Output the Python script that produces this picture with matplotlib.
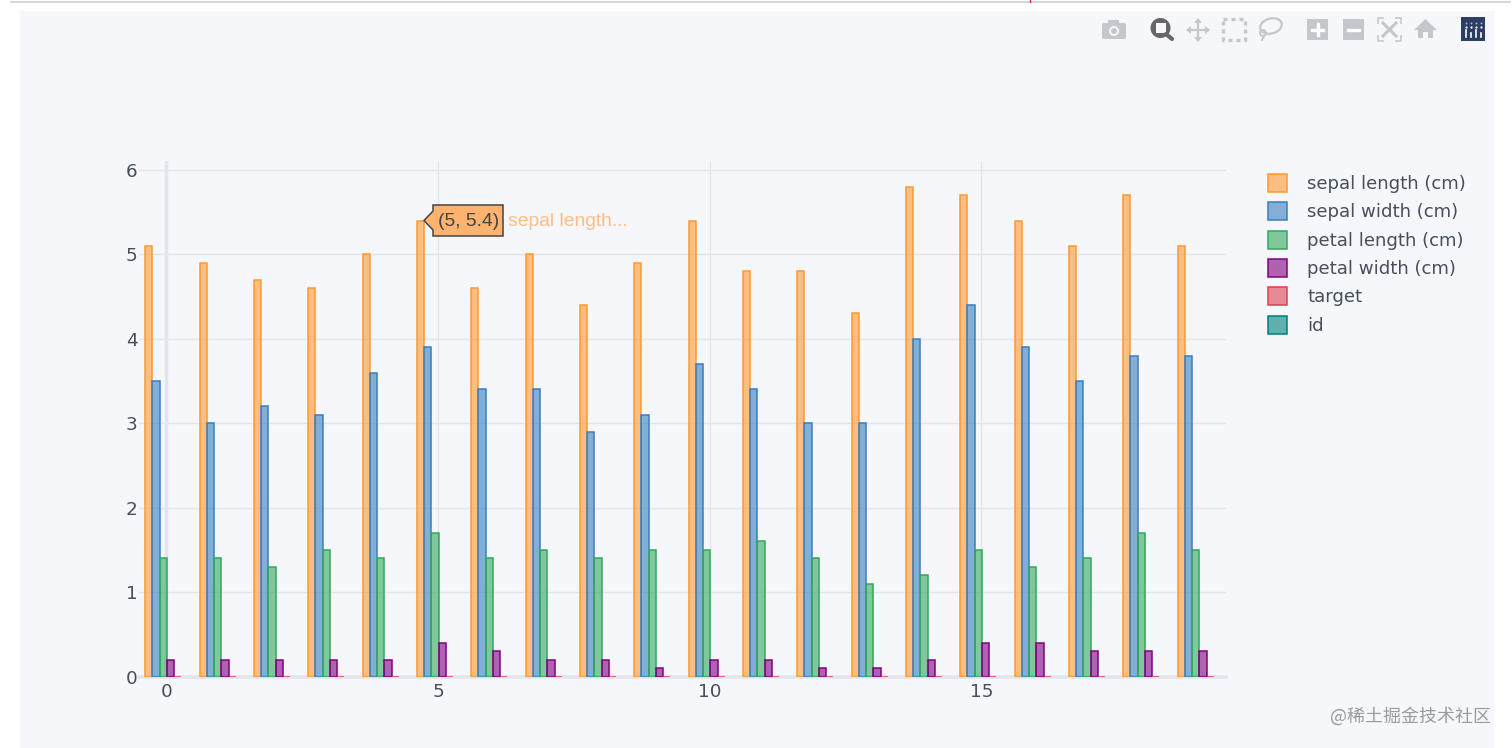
import numpy as np
import matplotlib
matplotlib.use("Agg")
import matplotlib.pyplot as plt
from matplotlib.patches import Rectangle, Polygon, Circle, Ellipse, FancyBboxPatch

# iris data, first 20 rows
sepal_length = [5.1, 4.9, 4.7, 4.6, 5.0, 5.4, 4.6, 5.0, 4.4, 4.9, 5.4, 4.8, 4.8, 4.3, 5.8, 5.7, 5.4, 5.1, 5.7, 5.1]
sepal_width = [3.5, 3.0, 3.2, 3.1, 3.6, 3.9, 3.4, 3.4, 2.9, 3.1, 3.7, 3.4, 3.0, 3.0, 4.0, 4.4, 3.9, 3.5, 3.8, 3.8]
petal_length = [1.4, 1.4, 1.3, 1.5, 1.4, 1.7, 1.4, 1.5, 1.4, 1.5, 1.5, 1.6, 1.4, 1.1, 1.2, 1.5, 1.3, 1.4, 1.7, 1.5]
petal_width = [0.2, 0.2, 0.2, 0.2, 0.2, 0.4, 0.3, 0.2, 0.2, 0.1, 0.2, 0.2, 0.1, 0.1, 0.2, 0.4, 0.4, 0.3, 0.3, 0.3]
target = [0] * 20
ids = [0] * 20

names = ["sepal length (cm)", "sepal width (cm)", "petal length (cm)", "petal width (cm)", "target", "id"]
series = [sepal_length, sepal_width, petal_length, petal_width, target, ids]
colors = ["#ff9933", "#3780bf", "#32a85c", "#800080", "#db4052", "#008080"]
x_ticks = [0, 5, 10, 15]
y_ticks = [0, 1, 2, 3, 4, 5, 6]

W, H = 1512, 748
BG = "#f5f7fa"
GRID = "#e2e5ec"
TEXT = "#474f5a"
ICON = "#c4c7cc"

plt.rcParams["font.family"] = ["DejaVu Sans"]
fig = plt.figure(figsize=(W / 100, H / 100), dpi=100, facecolor="white")

# overlay in pixel coords for the page, toolbar, legend and tooltip
bg = fig.add_axes([0, 0, 1, 1], zorder=0)
bg.set_xlim(0, W)
bg.set_ylim(H, 0)
bg.axis("off")
bg.add_patch(Rectangle((20, 11), 1474, 737, fc=BG, ec="none"))
bg.plot([11, 1510], [2, 2], color="#cfcfcf", lw=1.2)
bg.plot([1030, 1030], [0, 2], color="#c0305a", lw=1)

# plot area
left, right, top, bottom = 139, 1226, 161, 676.5
ax = fig.add_axes([left / W, 1 - bottom / H, (right - left) / W, (bottom - top) / H], zorder=1)
ax.patch.set_alpha(0)
for s in ax.spines.values():
    s.set_visible(False)
ax.set_xlim(-0.506, 19.5)
ax.set_ylim(0, 6.105)
ax.set_xticks(x_ticks)
ax.set_yticks(y_ticks)
ax.grid(True, color=GRID, lw=1)
ax.set_axisbelow(True)
ax.tick_params(length=0, labelsize=13.2, labelcolor=TEXT)
ax.tick_params(axis="x", pad=5)
ax.tick_params(axis="y", pad=1)
ax.axvline(0, color=GRID, lw=2.4, zorder=0.8)
ax.axhline(0, color=GRID, lw=2.6, zorder=0.8, clip_on=False)

n = len(series)
w = 0.8 / n
xs = np.arange(20)
for i, (vals, c) in enumerate(zip(series, colors)):
    pos = xs - 0.4 + w * (i + 0.5) + 0.008
    lw = 0 if names[i] == "id" else 1.1
    ax.bar(pos, vals, width=w, color=matplotlib.colors.to_rgba(c, 0.6), edgecolor=c, linewidth=lw, zorder=2)

# legend
for i, (name, c) in enumerate(zip(names, colors)):
    yc = 183 + i * 28.35
    bg.add_patch(Rectangle((1268, yc - 9), 19, 18, fc=matplotlib.colors.to_rgba(c, 0.6), ec=c, lw=1.1))
    bg.text(1307, yc + 0.8, name, fontsize=13.05, color=TEXT, va="center", ha="left")

# hover label
top_layer = fig.add_axes([0, 0, 1, 1], zorder=3)
top_layer.set_xlim(0, W)
top_layer.set_ylim(H, 0)
top_layer.axis("off")
top_layer.add_patch(Polygon([(424, 220.5), (433, 211), (433, 205), (503, 205), (503, 236), (433, 236), (433, 230)],
                            closed=True, fc="#ffb36f", ec="#444444", lw=1.1))
top_layer.text(468.5, 221, "(5, 5.4)", fontsize=13.9, color="#444444", ha="center", va="center", family="Liberation Sans")
top_layer.text(508, 221, "sepal length...", fontsize=13.9, color="#ffbd85", ha="left", va="center", family="Liberation Sans")

# watermark
top_layer.text(1491, 716, "@稀土掘金技术社区", fontsize=12.95, color="#9b9b9b", ha="right", va="center",
               family=["Noto Sans CJK SC", "DejaVu Sans"])

# modebar icons
t = top_layer
# camera
t.add_patch(FancyBboxPatch((1102, 23), 24, 16, boxstyle="round,pad=0,rounding_size=2", fc=ICON, ec="none"))
t.add_patch(Rectangle((1108, 20), 11, 4, fc=ICON, ec="none"))
t.add_patch(Circle((1114, 31), 5, fc=BG, ec="none"))
t.add_patch(Circle((1114, 31), 3, fc=ICON, ec="none"))
# zoom (active)
dark = "#666666"
t.plot([1166, 1172], [34, 39], color=dark, lw=3, solid_capstyle="round")
t.add_patch(Circle((1160.5, 28), 10, fc=dark, ec="none"))
t.add_patch(Rectangle((1155.5, 23), 10, 10, fc=BG, ec="none"))
# pan
t.plot([1188, 1208], [30, 30], color=ICON, lw=1.6)
t.plot([1198, 1198], [20, 40], color=ICON, lw=1.6)
for tri in ([(1186, 30), (1191, 26), (1191, 34)], [(1210, 30), (1205, 26), (1205, 34)],
            [(1198, 18), (1194, 23), (1202, 23)], [(1198, 42), (1194, 37), (1202, 37)]):
    t.add_patch(Polygon(tri, closed=True, fc=ICON, ec="none"))
# box select
t.add_patch(Rectangle((1223, 19), 22, 21, fc="none", ec=ICON, lw=2.4, ls=(0, (1.2, 1.2))))
# lasso
t.add_patch(Ellipse((1271, 26), 22, 15, angle=-15, fc="none", ec=ICON, lw=1.6))
t.add_patch(Circle((1263, 33), 3, fc="none", ec=ICON, lw=1.4))
t.plot([1264, 1262], [36, 40], color=ICON, lw=1.4)
# zoom in / out
t.add_patch(Rectangle((1307, 19), 21, 21, fc=ICON, ec="none"))
t.plot([1312, 1323], [29.5, 29.5], color="white", lw=2.4)
t.plot([1317.5, 1317.5], [24, 35], color="white", lw=2.4)
t.add_patch(Rectangle((1343, 19), 21, 21, fc=ICON, ec="none"))
t.plot([1348, 1359], [29.5, 29.5], color="white", lw=2.4)
# autoscale
for (cx, cy, dx, dy) in [(1378, 18, 1, 1), (1401, 18, -1, 1), (1378, 41, 1, -1), (1401, 41, -1, -1)]:
    t.plot([cx + 5 * dx, cx, cx], [cy, cy, cy + 5 * dy], color=ICON, lw=1.2)
t.plot([1383, 1396], [23, 36], color=ICON, lw=2.2)
t.plot([1383, 1396], [36, 23], color=ICON, lw=2.2)
# home
t.add_patch(Polygon([(1414, 30), (1425.5, 19), (1437, 30), (1433, 30), (1433, 38), (1428, 38), (1428, 32),
                     (1423, 32), (1423, 38), (1418, 38), (1418, 30)], closed=True, fc=ICON, ec="none"))
# plotly logo
t.add_patch(Rectangle((1461, 17), 24, 24, fc="#2c3e66", ec="none"))
for px, y0 in zip([1465.5, 1470.5, 1475.5, 1480.5], [30, 33, 30, 33]):
    t.plot([px, px], [y0, 37], color="white", lw=1.2)
    t.plot([px], [22.5], "o", color="#9fb2d6", ms=1.4, mew=0)
    t.plot([px], [26.5], "o", color="white", ms=1.6, mew=0)

fig.savefig("out.png", dpi=100, facecolor="white")
